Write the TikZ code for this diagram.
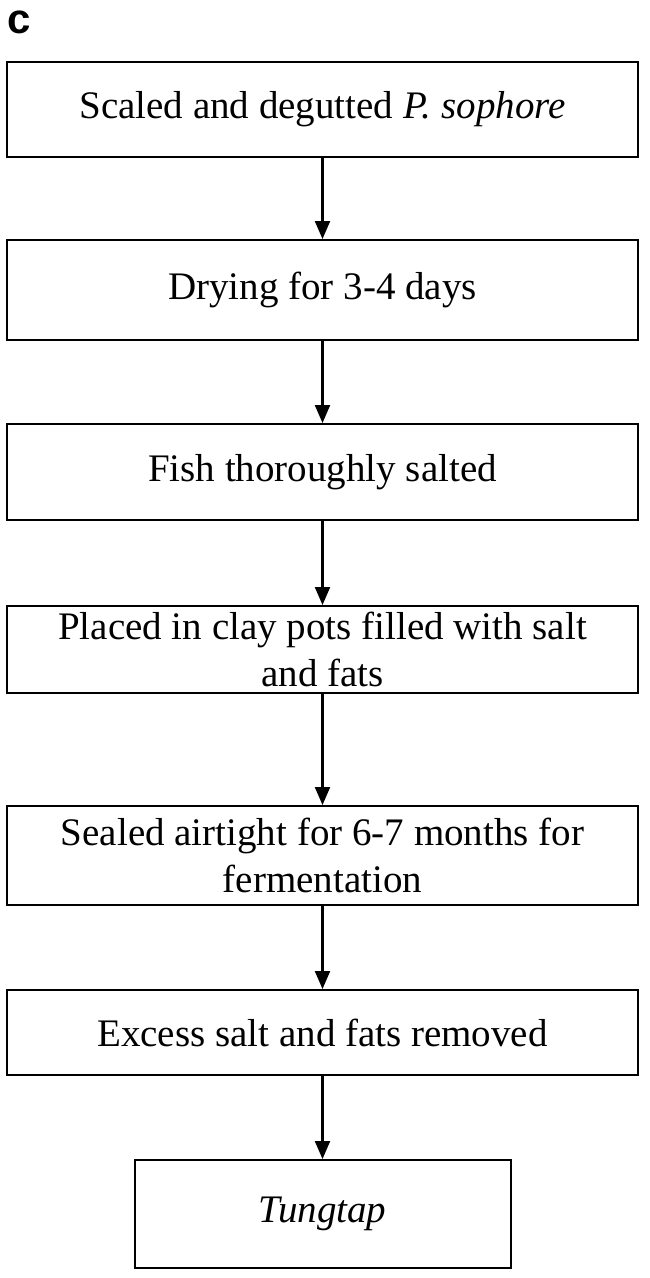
\documentclass[tikz,border=0pt]{standalone}
\usepackage{fontspec}
\setmainfont{Liberation Serif}
\newfontfamily\labelfont{Liberation Sans}
\usetikzlibrary{arrows.meta}
\begin{document}
\begin{tikzpicture}[x=1pt,y=-1pt,
  stepbox/.style={draw,line width=2pt,align=center,font=\fontsize{39}{47}\selectfont,inner sep=0pt},
  arr/.style={-{Triangle[length=18pt,width=15pt]},line width=2.2pt}]
\useasboundingbox (0,0) rectangle (650,1278);
\node[font=\labelfont\bfseries\fontsize{42}{42}\selectfont,anchor=base west,inner sep=0pt] (c) at (7,33) {c};
\node[stepbox,minimum width=631pt,minimum height=95pt] (b1) at (322.5,109.5) {Scaled and degutted \textit{P. sophore}};
\node[stepbox,minimum width=631pt,minimum height=100pt] (b2) at (322.5,290) {Drying for 3-4 days};
\node[stepbox,minimum width=631pt,minimum height=96pt] (b3) at (322.5,472) {Fish thoroughly salted};
\node[stepbox,minimum width=631pt,minimum height=87pt] (b4) at (322.5,649.5) {Placed in clay pots filled with salt\\and fats};
\node[stepbox,minimum width=631pt,minimum height=99pt] (b5) at (322.5,855.5) {Sealed airtight for 6-7 months for\\fermentation};
\node[stepbox,minimum width=631pt,minimum height=85pt] (b6) at (322.5,1032.5) {Excess salt and fats removed};
\node[stepbox,minimum width=376pt,minimum height=108pt] (b7) at (322.5,1214) {\textit{Tungtap}};
\foreach \a/\b in {b1/b2,b2/b3,b3/b4,b4/b5,b5/b6,b6/b7}
  \draw[arr] (\a.south) -- (\b.north);
\end{tikzpicture}
\end{document}
